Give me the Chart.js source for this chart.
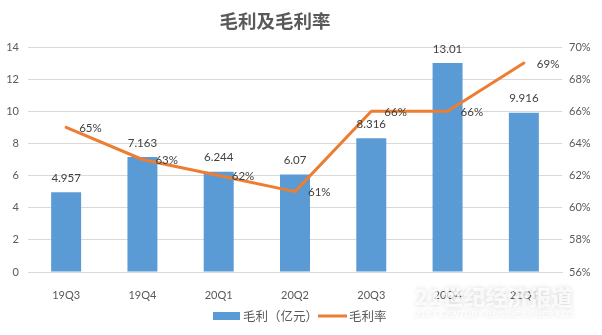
<!DOCTYPE html>
<html>
<head>
<meta charset="utf-8">
<script src="https://cdn.jsdelivr.net/npm/chart.js@4.4.0/dist/chart.umd.min.js"></script>
<style>
  html, body { margin: 0; padding: 0; background: #fff; }
  #wrap { width: 602px; height: 335px; position: relative; }
</style>
</head>
<body>
<div id="wrap"><canvas id="c" width="602" height="335"></canvas></div>
<script>
const titleText = '毛利及毛利率';
const categories = ['19Q3', '19Q4', '20Q1', '20Q2', '20Q3', '20Q4', '21Q1'];
const grossProfit = [4.957, 7.163, 6.244, 6.07, 8.316, 13.01, 9.916];
const grossProfitLabels = ['4.957', '7.163', '6.244', '6.07', '8.316', '13.01', '9.916'];
const grossMargin = [65, 63, 62, 61, 66, 66, 69];
const seriesNames = ['毛利（亿元）', '毛利率'];
const leftTicks = [0, 2, 4, 6, 8, 10, 12, 14];
const rightTicks = [56, 58, 60, 62, 64, 66, 68, 70];
const watermarkMain = '21世纪经济报道';
const watermarkSub = '21ST CENTURY BUSINESS HERALD';

const BLUE = '#5B9BD5';
const ORANGE = '#ED7D31';
const numFont = 'Lato, "Liberation Sans", sans-serif';
const cjkFont = '"Noto Sans CJK SC", "Noto Sans", sans-serif';

const overlay = {
  id: 'overlay',
  afterDatasetsDraw(chart) {
    const ctx = chart.ctx;
    ctx.save();
    const barMeta = chart.getDatasetMeta(1);
    ctx.font = '11.5px ' + numFont;
    ctx.fillStyle = '#404040';
    ctx.textAlign = 'center';
    ctx.textBaseline = 'middle';
    barMeta.data.forEach((el, i) => {
      ctx.fillText(grossProfitLabels[i], el.x, el.y - 14);
    });
    const lineMeta = chart.getDatasetMeta(0);
    ctx.textAlign = 'left';
    lineMeta.data.forEach((el, i) => {
      ctx.fillText(grossMargin[i] + '%', el.x + 13, el.y + 1);
    });
    ctx.restore();
  },
  afterDraw(chart) {
    const ctx = chart.ctx;
    ctx.save();
    ctx.font = '600 18.5px ' + cjkFont;
    ctx.fillStyle = '#595959';
    ctx.textAlign = 'center';
    ctx.textBaseline = 'middle';
    ctx.fillText(titleText, 275, 21);

    const ly = 316;
    ctx.fillStyle = BLUE;
    ctx.fillRect(213, ly - 4, 27, 8);
    ctx.font = '12.5px ' + cjkFont;
    ctx.fillStyle = '#595959';
    ctx.textAlign = 'left';
    ctx.fillText(seriesNames[0], 243, ly);
    ctx.strokeStyle = ORANGE;
    ctx.lineWidth = 3;
    ctx.beginPath();
    ctx.moveTo(318, ly);
    ctx.lineTo(347, ly);
    ctx.stroke();
    ctx.fillText(seriesNames[1], 349, ly);

    // watermark
    ctx.shadowColor = 'rgba(0,0,0,0.22)';
    ctx.shadowBlur = 5;
    ctx.fillStyle = 'rgba(255,255,255,0.75)';
    ctx.textAlign = 'center';
    ctx.font = '900 21px ' + cjkFont;
    let w = ctx.measureText(watermarkMain).width;
    ctx.save();
    ctx.translate(494, 297);
    ctx.scale(158 / w, 1);
    ctx.fillText(watermarkMain, 0, 0);
    ctx.restore();
    ctx.font = 'italic bold 9px "Liberation Sans", sans-serif';
    w = ctx.measureText(watermarkSub).width;
    ctx.save();
    ctx.translate(494, 315);
    ctx.scale(157 / w, 1);
    ctx.fillText(watermarkSub, 0, 0);
    ctx.restore();
    ctx.restore();
  }
};

new Chart(document.getElementById('c'), {
  data: {
    labels: categories,
    datasets: [
      {
        type: 'line',
        label: seriesNames[1],
        data: grossMargin,
        yAxisID: 'y1',
        borderColor: ORANGE,
        backgroundColor: ORANGE,
        borderWidth: 3,
        pointRadius: 0,
        tension: 0,
        borderJoinStyle: 'round',
        borderCapStyle: 'round',
        order: 0
      },
      {
        type: 'bar',
        label: seriesNames[0],
        data: grossProfit,
        yAxisID: 'y',
        backgroundColor: BLUE,
        barPercentage: 0.393,
        categoryPercentage: 1,
        order: 1
      }
    ]
  },
  options: {
    responsive: false,
    animation: false,
    layout: { padding: { top: 47, left: 0, right: 0, bottom: 0 } },
    plugins: {
      legend: { display: false },
      title: { display: false },
      tooltip: { enabled: false }
    },
    scales: {
      x: {
        grid: { display: false },
        border: { display: true, color: '#D9D9D9' },
        ticks: { color: '#595959', font: { family: numFont, size: 11 }, padding: 9 },
        afterFit(s) { s.height = 63; }
      },
      y: {
        position: 'left',
        min: 0, max: 14,
        afterBuildTicks(s) { s.ticks = leftTicks.map(v => ({ value: v })); },
        grid: { color: '#D9D9D9', drawTicks: false },
        border: { display: false },
        ticks: { color: '#595959', font: { family: numFont, size: 11 }, padding: 9 },
        afterFit(s) { s.width = 28; }
      },
      y1: {
        position: 'right',
        min: 56, max: 70,
        afterBuildTicks(s) { s.ticks = rightTicks.map(v => ({ value: v })); },
        grid: { display: false, drawTicks: false },
        border: { display: false },
        ticks: { color: '#595959', font: { family: numFont, size: 11 }, padding: 7, callback: v => v + '%' },
        afterFit(s) { s.width = 40; }
      }
    }
  },
  plugins: [overlay]
});
</script>
</body>
</html>
